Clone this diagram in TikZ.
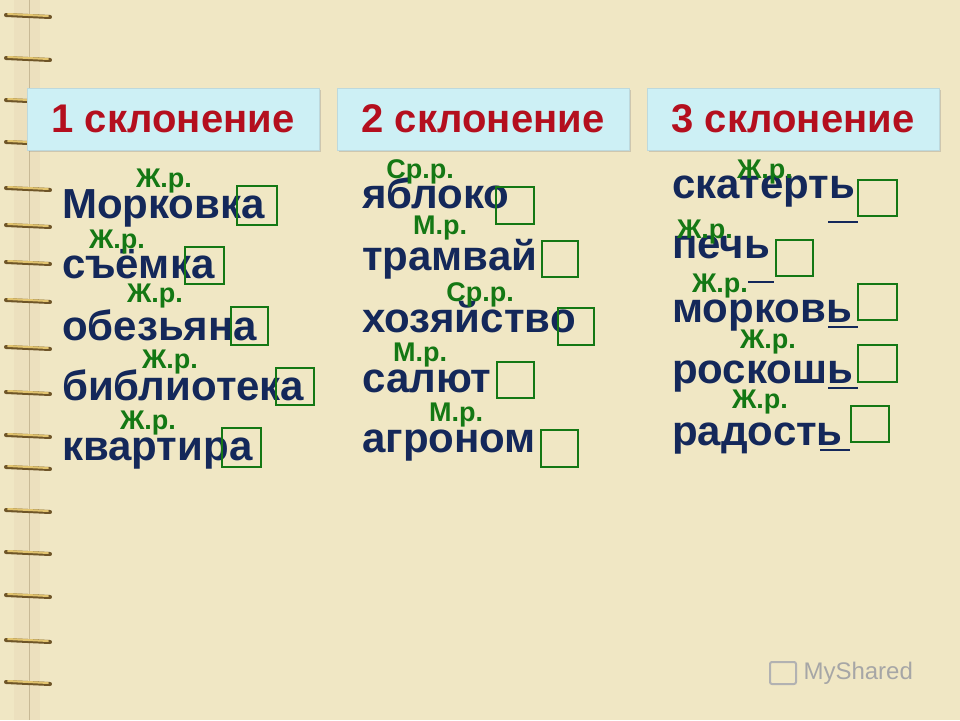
\documentclass[tikz,border=0pt]{standalone}
\usepackage{fontspec}
\setmainfont{Liberation Sans}
\usetikzlibrary{shadows}
\definecolor{bg}{RGB}{240,231,196}
\definecolor{strip}{RGB}{236,224,190}
\definecolor{stripline}{RGB}{200,185,150}
\definecolor{ringd}{RGB}{110,85,40}
\definecolor{ringl}{RGB}{225,195,110}
\definecolor{navy}{RGB}{20,40,90}
\definecolor{hfill}{RGB}{205,240,245}
\definecolor{hred}{RGB}{180,15,30}
\definecolor{gr}{RGB}{20,120,20}
\begin{document}
\begin{tikzpicture}[x=1pt,y=-1pt,
 hdr/.style={draw=hfill!80!gray,fill=hfill,minimum width=292pt,minimum height=62pt,font=\bfseries\fontsize{40}{40}\selectfont,text=hred,drop shadow={shadow xshift=2pt,shadow yshift=-2pt,opacity=0.3}},
 word/.style={anchor=base west,inner sep=0pt,font=\bfseries\fontsize{42}{42}\selectfont,text=navy},
 gen/.style={font=\bfseries\fontsize{27}{27}\selectfont,text=gr,inner sep=0pt},
 sq/.style={draw=gr,line width=2.2pt},
 ul/.style={draw=navy,line width=2.5pt}]
\fill[bg] (0,0) rectangle (960,720);
\useasboundingbox (0,0) rectangle (960,720);
\fill[strip] (14,0) rectangle (40,720);
\draw[stripline,line width=1pt] (29,0)--(29,720);
\foreach \y in {15,58,100,142,188,225,262,300,347,392,435,467,510,552,595,640,682} {
  \draw[ringd,line width=4pt,line cap=round] (6,\y)--(50,\y+2);
  \draw[ringl,line width=2pt,line cap=round] (8,\y-1)--(48,\y+1);
}
\node[hdr] (h1) at (173,119) {1 склонение};
\node[hdr] (h2) at (483,119) {2 склонение};
\node[hdr] (h3) at (793,119) {3 склонение};
% column 1
\node[word] (w11) at (62,218) {Морковка};
\node[word] (w12) at (62,278) {съёмка};
\node[word] (w13) at (62,340) {обезьяна};
\node[word] (w14) at (62,400) {библиотека};
\node[word] (w15) at (62,460) {квартира};
\node[gen] (g11) at (164,181) {Ж.р.};
\node[gen] (g12) at (117,242) {Ж.р.};
\node[gen] (g13) at (155,296) {Ж.р.};
\node[gen] (g14) at (170,362) {Ж.р.};
\node[gen] (g15) at (148,423) {Ж.р.};
\draw[sq] (237,186) rectangle (277,225);
\draw[sq] (185,247) rectangle (224,284);
\draw[sq] (231,307) rectangle (268,345);
\draw[sq] (276,368) rectangle (314,405);
\draw[sq] (222,428) rectangle (261,467);
% column 2
\node[word] (w21) at (362,208) {яблоко};
\node[word] (w22) at (362,270) {трамвай};
\node[word] (w23) at (362,332) {хозяйство};
\node[word] (w24) at (362,392) {салют};
\node[word] (w25) at (362,452) {агроном};
\node[gen] (g21) at (420,172) {Ср.р.};
\node[gen] (g22) at (440,228) {М.р.};
\node[gen] (g23) at (480,295) {Ср.р.};
\node[gen] (g24) at (420,355) {М.р.};
\node[gen] (g25) at (456,415) {М.р.};
\draw[sq] (496,187) rectangle (534,224);
\draw[sq] (542,241) rectangle (578,277);
\draw[sq] (558,308) rectangle (594,345);
\draw[sq] (497,362) rectangle (534,398);
\draw[sq] (541,430) rectangle (578,467);
% column 3
\node[word] (w31) at (672,198) {скатерть};
\node[word] (w32) at (672,258) {печь};
\node[word] (w33) at (672,322) {морковь};
\node[word] (w34) at (672,383) {роскошь};
\node[word] (w35) at (672,445) {радость};
\node[gen] (g31) at (765,172) {Ж.р.};
\node[gen] (g32) at (705,232) {Ж.р.};
\node[gen] (g33) at (720,286) {Ж.р.};
\node[gen] (g34) at (768,342) {Ж.р.};
\node[gen] (g35) at (760,402) {Ж.р.};
\draw[sq] (858,180) rectangle (897,216);
\draw[sq] (776,240) rectangle (813,276);
\draw[sq] (858,284) rectangle (897,320);
\draw[sq] (858,345) rectangle (897,382);
\draw[sq] (851,406) rectangle (889,442);
\draw[ul] (828,222)--(858,222);
\draw[ul] (748,282)--(774,282);
\draw[ul] (828,327)--(858,327);
\draw[ul] (828,388)--(858,388);
\draw[ul] (820,450)--(850,450);
% logo
\node[font=\fontsize{24}{24}\selectfont,text=gray!70,anchor=west] (logo) at (800,673) {MyShared};
\draw[gray!60,line width=2pt,rounded corners=2pt] (770,662) rectangle (796,684);
\end{tikzpicture}
\end{document}
